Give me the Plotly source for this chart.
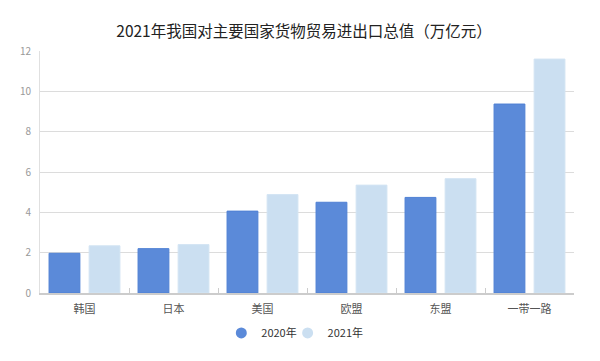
import plotly.graph_objects as go

categories = ["韩国", "日本", "美国", "欧盟", "东盟", "一带一路"]
values_2020 = [1.97, 2.2, 4.06, 4.5, 4.74, 9.37]
values_2021 = [2.34, 2.4, 4.88, 5.35, 5.67, 11.6]
series_names = ["2020年", "2021年"]
title_text = "2021年我国对主要国家货物贸易进出口总值（万亿元）"

fill_colors = ["#5b8ad9", "#cbdff1"]
line_colors = ["#4f80d4", "#d3e4f3"]

FONT = "Noto Sans CJK SC"

# page body has an 8px margin, so the figure is sized to fit the window
W, H = 592, 353

fig = go.Figure()
for name, vals, fc, lc in zip(series_names, [values_2020, values_2021], fill_colors, line_colors):
    fig.add_trace(go.Bar(
        x=categories, y=vals, name=name, showlegend=False,
        marker=dict(color=fc, line=dict(color=lc, width=1)),
        hoverinfo="x+y+name",
    ))
legend_ids = ["legend", "legend2"]
for name, fc, lid in zip(series_names, fill_colors, legend_ids):
    fig.add_trace(go.Scatter(
        x=[None], y=[None], mode="markers", name=name,
        marker=dict(color=fc, size=11, symbol="circle"),
        showlegend=True, legend=lid,
    ))

leg_common = dict(orientation="h", xanchor="left", y=-0.165, yanchor="middle",
                  font=dict(family=FONT, size=11, color="#333333"),
                  itemwidth=30, itemclick=False, itemdoubleclick=False,
                  bgcolor="rgba(0,0,0,0)")

fig.update_layout(
    width=W, height=H,
    margin=dict(l=29, r=26, t=43, b=68),
    paper_bgcolor="white", plot_bgcolor="white",
    font=dict(family=FONT, color="#555555", size=11),
    title=dict(text=title_text, x=0.5, xanchor="center", y=1 - 24 / H, yanchor="middle",
               font=dict(family=FONT, size=15.5, color="#222222")),
    barmode="group", bargap=0.1, bargroupgap=0.23,
    showlegend=True,
    legend=dict(x=0.3395, **leg_common),
    legend2=dict(x=0.4637, **leg_common),
)
fig.update_xaxes(
    type="category", showline=True, linecolor="#cccccc", linewidth=1.5,
    ticks="inside", tickson="boundaries", ticklen=5, tickcolor="#cccccc",
    ticklabelstandoff=5,
    tickfont=dict(family=FONT, size=11, color="#555555"),
    showgrid=False, zeroline=False,
)
fig.update_yaxes(
    range=[0, 12], dtick=2, showgrid=True, gridcolor="#dcdcdc", gridwidth=1,
    showline=True, linecolor="#e0e0e0", linewidth=1, zeroline=False,
    ticks="", ticklabelstandoff=6,
    tickfont=dict(family=FONT, size=10, color="#999999"),
)

fig.write_html("out.html")
